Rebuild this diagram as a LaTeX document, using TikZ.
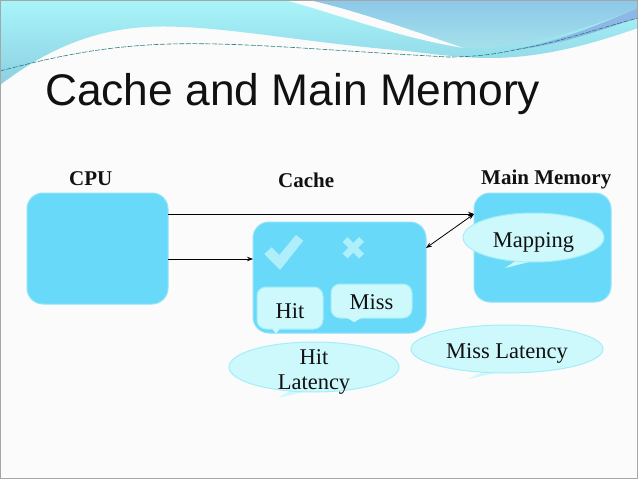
\documentclass[tikz,border=0pt]{standalone}
\usepackage{fontspec}
\setmainfont{Liberation Serif}
\newfontfamily\titlefont{Liberation Sans}
\usetikzlibrary{shapes.geometric,arrows.meta}
\definecolor{boxblue}{HTML}{69D9F9}
\definecolor{boxedge}{HTML}{8FE3FA}
\definecolor{bubble}{HTML}{CDF9FD}
\definecolor{bubbleedge}{HTML}{A5EEF6}
\definecolor{ink}{HTML}{111111}
\definecolor{swtop}{HTML}{A8F5F9}
\definecolor{swbot}{HTML}{8CCFE2}
\definecolor{bltop}{HTML}{8CC8E8}
\definecolor{blbot}{HTML}{A6E2EA}
\definecolor{paper}{HTML}{FBFBFB}
\tikzset{
  x=1pt,y=-1pt,
  membox/.style={draw=boxedge,line width=1pt,fill=boxblue,rounded corners=16pt,minimum width=#1,inner sep=0pt,outer sep=0pt},
  ovalbub/.style={ellipse,draw=bubbleedge,line width=1pt,fill=bubble,inner sep=0pt,outer sep=0pt},
  bubtext/.style={inner sep=0pt,text=ink,font=\fontsize{22.5}{25}\selectfont,align=center},
  tailbub/.style={fill=bubble,draw=none},
  sqbub/.style={rounded corners=9pt,fill=bubble,draw=bubbleedge,line width=1pt,inner sep=0pt,outer sep=0pt},
  head/.style={font=\bfseries\fontsize{21}{23}\selectfont,text=ink,inner sep=0pt},
  link/.style={draw=black,line width=.8pt,-{Stealth[length=6pt,width=4.5pt]}},
  duallink/.style={draw=black,line width=.8pt,{Stealth[length=6pt,width=4.5pt]}-{Stealth[length=6pt,width=4.5pt]}},
}
\begin{document}
\begin{tikzpicture}
\useasboundingbox (0,0) rectangle (638,479);
\fill[paper] (0,0) rectangle (638,479);
% swoosh
\shade[top color=swtop,bottom color=swbot]
  (0,0) -- (0,85) .. controls (50,47) and (100,26) .. (165,26.5)
  .. controls (230,27) and (300,42) .. (407,51)
  .. controls (440,55) and (465,58) .. (490,58)
  .. controls (540,58) and (590,45) .. (638,28) -- (638,0) -- cycle;
\fill[paper] (285,0) .. controls (340,15) and (400,38) .. (464,48)
  .. controls (420,33) and (355,10) .. (309,0) -- cycle;
\shade[top color=bltop,bottom color=blbot]
  (309,0) .. controls (355,10) and (420,33) .. (464,48)
  .. controls (500,50) and (560,40) .. (638,8) -- (638,0) -- cycle;
\fill[cyan!60!blue!45!white] (638,8) .. controls (600,24) and (560,42) .. (510,50)
  .. controls (560,46) and (600,30) .. (638,18) -- cycle;
\draw[teal!70!gray,line width=.6pt,dash pattern=on 5pt off 1.5pt]
  (0,71) .. controls (50,58) and (100,46) .. (170,44)
  .. controls (240,42) and (320,50) .. (448,57)
  .. controls (480,57) and (500,53) .. (520,49)
  .. controls (560,42) and (600,28) .. (638,18);
\draw[teal!50!gray,line width=.8pt] (0,0.4) -- (638,0.4);
\draw[gray!70,line width=.8pt] (0.4,0.4) rectangle (637.6,478.6);
% title
\node[anchor=base west,inner sep=0pt,font=\titlefont\fontsize{44.3}{50}\selectfont,text=ink] (title) at (45,105) {Cache and Main Memory};
% headers
\node[head,anchor=base west] (cpulab) at (69,185) {CPU};
\node[head,anchor=base west] (cachelab) at (278,187) {Cache};
\node[head,anchor=base west] (mainlab) at (481,184) {Main Memory};
% boxes
\node[membox=141pt,minimum height=111pt,anchor=north west] (cpu) at (27,193) {};
\node[membox=173pt,minimum height=111pt,anchor=north west] (cache) at (253,222) {};
\node[membox=137pt,minimum height=109pt,anchor=north west] (mem) at (474,193) {};
% check and cross
\fill[bubble!70!boxblue] (264.3,254) -- (271.7,247.3) -- (279.3,255) -- (296,235) -- (303.3,240.7) -- (280,270) -- cycle;
\draw[bubble!70!boxblue,line width=7pt] (345,239.5) -- (361.5,256) (345,256) -- (361.5,239.5);
% square bubbles
\fill[bubble] (268,325) -- (276,333) -- (284,325) -- cycle;
\node[sqbub,minimum width=66pt,minimum height=42pt,anchor=north west] (hit) at (257,287) {};
\fill[bubble] (280,327) -- (276,333) -- (272,327) -- cycle;
\node[bubtext,anchor=base] (hittext) at (290,318) {Hit};
\fill[bubble] (345,316) -- (354,322) -- (364,316) -- cycle;
\node[sqbub,minimum width=81pt,minimum height=34pt,anchor=north west] (miss) at (331,284) {};
\fill[bubble] (346,317) -- (354,322) -- (363,317) -- cycle;
\node[bubtext,anchor=base] (misstext) at (371.5,309) {Miss};
% oval bubbles
\fill[tailbub] (520,258) -- (505,268) -- (545,258) -- cycle;
\node[ovalbub,minimum width=141pt,minimum height=49pt] (mapping) at (533.5,237.5) {};
\node[bubtext,anchor=base] (mappingtext) at (533.5,247) {Mapping};
\fill[tailbub] (487,370) -- (468,379) -- (510,370) -- cycle;
\node[ovalbub,minimum width=192pt,minimum height=48pt] (misslat) at (507,349) {};
\node[bubtext,anchor=base] (misslattext) at (507,358) {Miss Latency};
\fill[tailbub] (295,388) -- (278,398) -- (320,388) -- cycle;
\node[ovalbub,minimum width=170pt,minimum height=50pt] (hitlat) at (314,367) {};
\node[bubtext,anchor=base] (hitlattexta) at (314,364) {Hit};
\node[bubtext,anchor=base] (hitlattextb) at (314,389) {Latency};
% connectors
\draw[link] ([yshift=34.5pt]cpu.east) -- ([yshift=33.5pt]mem.west);
\draw[link] ([yshift=-10.5pt]cpu.east) -- ([yshift=18.5pt]cache.west);
\draw[duallink] ([yshift=29.5pt]cache.east) -- ([yshift=33.5pt]mem.west);
\end{tikzpicture}
\end{document}
